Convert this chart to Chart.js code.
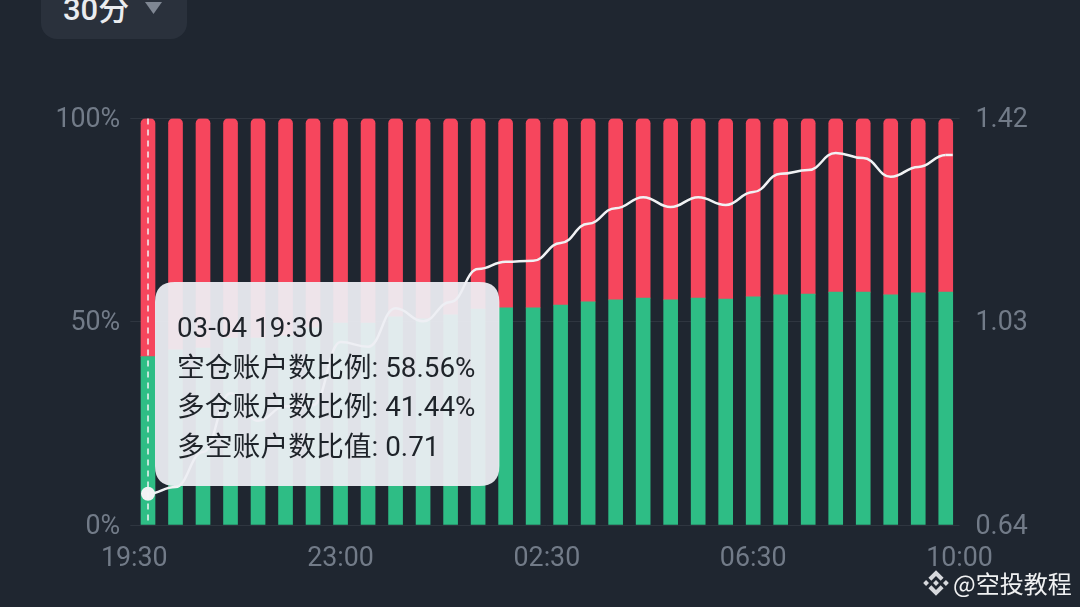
<!DOCTYPE html>
<html lang="zh">
<head>
<meta charset="utf-8">
<title>多空账户数比</title>
<script src="https://cdn.jsdelivr.net/npm/chart.js@4"></script>
<style>
  html, body { margin: 0; padding: 0; background: #1f2630; overflow: hidden; }
  #wrap { position: relative; width: 1080px; height: 607px; }
  canvas { position: absolute; left: 0; top: 0; }
  #period { position: absolute; left: 41px; top: -20px; width: 146px; height: 59px; background: #2a313c; border-radius: 16px; }
  #period span { position: absolute; left: 22px; top: 10px; color: #eaecef; font: 500 31px/40px Roboto, "Noto Sans CJK SC", sans-serif; }
  #period i { position: absolute; left: 104px; top: 22px; width: 17px; height: 12px; background: #7f8793; clip-path: polygon(0 0, 100% 0, 50% 100%); }
  #mark { position: absolute; left: 922px; top: 568px; height: 30px; display: flex; align-items: center; color: #f0f1f2; font: 24px/30px "Noto Sans CJK SC", sans-serif; }
  #mark svg { width: 28px; height: 28px; margin-right: 3px; }
</style>
</head>
<body>
<div id="wrap">
  <canvas id="chart" width="1080" height="607"></canvas>
  <div id="period"><span>30分</span><i></i></div>
  <div id="mark">
    <svg viewBox="0 0 24 24" fill="#d6d8dc">
      <path d="M12 1 18.5 7.5 16 10 12 6 8 10 5.500 7.500Z"/>
      <path d="M12 23 18.500 16.500 16 14 12 18 8 14 5.500 16.500Z"/>
      <path d="M12 9.500 14.500 12 12 14.500 9.500 12Z"/>
      <path d="M3.500 9.500 6 12 3.500 14.500 1 12Z"/>
      <path d="M20.500 9.500 23 12 20.500 14.500 18 12Z"/>
    </svg>
    <span>@空投教程</span>
  </div>
</div>
<script>
const times = [
  '03-04 19:30', '03-04 20:00', '03-04 20:30', '03-04 21:00', '03-04 21:30', '03-04 22:00',
  '03-04 22:30', '03-04 23:00', '03-04 23:30', '03-05 00:00', '03-05 00:30', '03-05 01:00',
  '03-05 01:30', '03-05 02:00', '03-05 02:30', '03-05 03:00', '03-05 03:30', '03-05 04:00',
  '03-05 04:30', '03-05 05:00', '03-05 05:30', '03-05 06:00', '03-05 06:30', '03-05 07:00',
  '03-05 07:30', '03-05 08:00', '03-05 08:30', '03-05 09:00', '03-05 09:30', '03-05 10:00'
];
const longPct = [
  41.44, 43.1, 43.5, 46.0, 46.0, 46.5, 48.5, 49.7, 49.7, 51.2,
  50.7, 51.7, 53.1, 53.4, 53.4, 54.1, 54.9, 55.4, 55.8, 55.4,
  55.8, 55.6, 56.1, 56.6, 56.8, 57.3, 57.3, 56.6, 57.1, 57.3
];
const shortPct = [
  58.56, 56.9, 56.5, 54.0, 54.0, 53.5, 51.5, 50.3, 50.3, 48.8,
  49.3, 48.3, 46.9, 46.6, 46.6, 45.9, 45.1, 44.6, 44.2, 44.6,
  44.2, 44.4, 43.9, 43.4, 43.2, 42.7, 42.7, 43.4, 42.9, 42.7
];
const ratio = [
  0.70, 0.713, 0.78, 0.893, 0.84, 0.868, 0.87, 0.991, 0.982, 1.056,
  1.031, 1.068, 1.131, 1.145, 1.147, 1.181, 1.218, 1.248, 1.269, 1.25,
  1.269, 1.254, 1.279, 1.314, 1.321, 1.354, 1.344, 1.308, 1.327, 1.35
];
const xTickLabels = ['19:30', '23:00', '02:30', '06:30', '10:00'];
const leftTicks = ['0%', '50%', '100%'];
const rightTicks = ['0.64', '1.03', '1.42'];
const activeIndex = 0;

const tickFont = { family: 'Roboto, "Noto Sans CJK SC", sans-serif', size: 26.8 };
const tickColor = '#727b88';
const tipFont = { family: 'Roboto, "Noto Sans CJK SC", sans-serif', size: 27.8 };
const lineColor = '#f1f2f4';

// tooltip sits in a fixed spot, the corner radius is taken off by Chart.js
Chart.Tooltip.positioners.fixedBox = function () {
  return { x: 175, y: 282 };
};

// flat tangent at every point, gives the stepped wave of the original line
const flatCurve = {
  id: 'flatCurve',
  beforeDatasetsDraw(chart) {
    const meta = chart.getDatasetMeta(0);
    meta.dataset.updateControlPoints(chart.chartArea);
    const pull = (chart.scales.x.getPixelForValue(1) - chart.scales.x.getPixelForValue(0)) * 0.45;
    meta.data.forEach(pt => {
      pt.cp1x = pt.x - pull;
      pt.cp1y = pt.y;
      pt.cp2x = pt.x + pull;
      pt.cp2y = pt.y;
    });
  }
};

const crosshair = {
  id: 'crosshair',
  afterDatasetsDraw(chart) {
    const x = chart.scales.x.getPixelForValue(activeIndex);
    const { top, bottom } = chart.chartArea;
    const last = chart.getDatasetMeta(0).data[times.length - 1];
    const ctx = chart.ctx;
    ctx.save();
    // the line runs on to the edge of the last bar
    ctx.strokeStyle = lineColor;
    ctx.lineWidth = 2.5;
    ctx.beginPath();
    ctx.moveTo(last.x, last.y);
    ctx.lineTo(last.x + 7, last.y);
    ctx.stroke();
    ctx.strokeStyle = '#f4f5f6';
    ctx.lineWidth = 1.5;
    ctx.setLineDash([6, 5]);
    ctx.beginPath();
    ctx.moveTo(x, top);
    ctx.lineTo(x, bottom);
    ctx.stroke();
    ctx.restore();
  }
};

const chart = new Chart(document.getElementById('chart'), {
  data: {
    labels: times,
    datasets: [
      {
        type: 'line',
        label: '多空账户数比值',
        data: ratio,
        yAxisID: 'y1',
        xAxisID: 'x',
        order: 0,
        borderColor: lineColor,
        borderWidth: 2.5,
        cubicInterpolationMode: 'monotone',
        pointBackgroundColor: lineColor,
        pointHoverBackgroundColor: lineColor,
        pointBorderWidth: 0,
        pointHoverBorderWidth: 0,
        pointRadius: c => (c.dataIndex === activeIndex ? 7 : 0),
        pointHoverRadius: c => (c.dataIndex === activeIndex ? 7 : 0)
      },
      {
        type: 'bar',
        label: '多仓账户数比例',
        data: longPct,
        yAxisID: 'y',
        xAxisID: 'x',
        order: 1,
        stack: 'ls',
        backgroundColor: '#2ebd85',
        hoverBackgroundColor: '#2ebd85',
        barThickness: 14
      },
      {
        type: 'bar',
        label: '空仓账户数比例',
        data: shortPct,
        yAxisID: 'y',
        xAxisID: 'x',
        order: 1,
        stack: 'ls',
        backgroundColor: '#f6465d',
        hoverBackgroundColor: '#f6465d',
        borderRadius: { topLeft: 5, topRight: 5 },
        borderSkipped: false,
        barThickness: 14
      }
    ]
  },
  options: {
    responsive: false,
    animation: false,
    events: [],
    layout: { padding: { top: 118.5 } },
    plugins: {
      legend: { display: false },
      tooltip: {
        enabled: true,
        animation: false,
        position: 'fixedBox',
        xAlign: 'left',
        yAlign: 'top',
        caretSize: 0,
        caretPadding: 0,
        cornerRadius: 20,
        backgroundColor: 'rgba(237, 238, 243, 0.94)',
        titleColor: '#1e2329',
        bodyColor: '#1e2329',
        titleFont: { ...tipFont, weight: 'normal' },
        bodyFont: tipFont,
        titleMarginBottom: 6.2,
        bodySpacing: 6.2,
        padding: { top: 31.5, bottom: 20.5, left: 22, right: 24 },
        displayColors: false,
        callbacks: {
          label(item) {
            if (item.dataset.yAxisID === 'y1') {
              return item.dataset.label + ': ' + (longPct[item.dataIndex] / shortPct[item.dataIndex]).toFixed(2);
            }
            return item.dataset.label + ': ' + item.raw.toFixed(2) + '%';
          }
        }
      }
    },
    scales: {
      x: {
        display: false,
        offset: true,
        stacked: true
      },
      xTicks: {
        type: 'linear',
        position: 'bottom',
        min: 0,
        max: xTickLabels.length - 1,
        grid: { display: false },
        border: { display: false },
        afterFit(scale) { scale.height = 82; },
        ticks: {
          stepSize: 1,
          padding: 10,
          maxRotation: 0,
          autoSkip: false,
          font: tickFont,
          color: tickColor,
          callback: v => xTickLabels[v]
        }
      },
      y: {
        position: 'left',
        stacked: true,
        min: 0,
        max: 100,
        grid: { color: '#2f3640', lineWidth: 1, tickLength: 4 },
        border: { display: false },
        afterFit(scale) { scale.width = 134.25; },
        ticks: {
          stepSize: 50,
          padding: 10,
          labelOffset: 2,
          font: tickFont,
          color: tickColor,
          callback: (v, i) => leftTicks[i]
        }
      },
      y1: {
        position: 'right',
        min: 0.64,
        max: 1.42,
        grid: { display: false },
        border: { display: false },
        afterFit(scale) { scale.width = 120.5; },
        ticks: {
          count: 3,
          padding: 8,
          labelOffset: 2,
          font: tickFont,
          color: tickColor,
          callback: (v, i) => rightTicks[i]
        }
      }
    }
  },
  plugins: [flatCurve, crosshair]
});

const pick = ds => ({ datasetIndex: ds, index: activeIndex });
chart.setActiveElements([pick(0)]);
chart.tooltip.setActiveElements([pick(2), pick(1), pick(0)], { x: 175, y: 282 });
chart.update();
</script>
</body>
</html>
